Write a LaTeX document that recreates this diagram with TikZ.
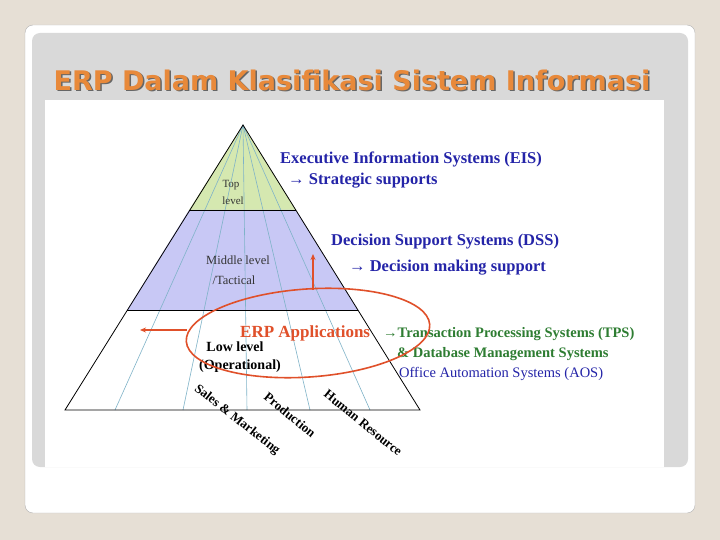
\documentclass[tikz,border=0pt]{standalone}
\usepackage{fontspec}
\setmainfont{Liberation Serif}
\newfontfamily\titlefont{DejaVu Sans}
\usetikzlibrary{arrows.meta}
\definecolor{bgc}{HTML}{E6DFD5}
\definecolor{panel}{HTML}{D9D9D9}
\definecolor{ttl}{HTML}{E8893A}
\definecolor{topg}{HTML}{D5E8B0}
\definecolor{midb}{HTML}{C8C8F5}
\definecolor{fan}{HTML}{7FB3C8}
\definecolor{navy}{HTML}{2424A8}
\definecolor{grn}{HTML}{2E7D32}
\definecolor{erp}{HTML}{E0502A}
\tikzset{
  lbl/.style={inner sep=0pt,anchor=west,font=\bfseries\fontsize{16.5}{18}\selectfont},
  rot/.style={inner sep=0pt,font=\bfseries\fontsize{13}{15}\selectfont},
  fanline/.style={draw=fan,line width=0.6pt},
  redarrow/.style={draw=erp,line width=1.5pt,-{Stealth[length=6pt,width=5pt]}}
}
\begin{document}
\begin{tikzpicture}[x=1pt,y=-1pt]
\useasboundingbox (0,0) rectangle (720,540);
\fill[bgc] (0,0) rectangle (720,540);
\fill[white,draw=gray!60,rounded corners=8pt] (25,25) rectangle (695,513);
\fill[panel,rounded corners=8pt] (32,33) rectangle (688,467);
\fill[white] (45,100) rectangle (664,467);
\node[inner sep=0pt,text=black!60] at (353.5,81.5) {\titlefont\bfseries\fontsize{27}{30}\selectfont ERP Dalam Klasifikasi Sistem Informasi};
\node[inner sep=0pt,text=ttl] (title) at (352,80) {\titlefont\bfseries\fontsize{27}{30}\selectfont ERP Dalam Klasifikasi Sistem Informasi};
% pyramid bands
\coordinate (apex) at (243,125);
\fill[topg] (apex) -- (296,210) -- (189,210) -- cycle;
\fill[midb] (189,210) -- (296,210) -- (358,310) -- (127,310) -- cycle;
% fan lines
\foreach \bx in {115,183,247,310,370} \draw[fanline] (apex) -- (\bx,410);
\draw[black,line width=0.7pt] (189,210) -- (296,210);
\draw[black,line width=0.7pt] (127,310) -- (358,310);
\draw[black,line width=0.8pt] (65,410) -- (apex) -- (420,410) -- cycle;
% level labels
\node[inner sep=0pt,font=\fontsize{11}{12}\selectfont,text=black!80] (top) at (231,185) {Top};
\node[inner sep=0pt,font=\fontsize{11}{12}\selectfont,text=black!80] (topl) at (233,201) {level};
\node[inner sep=0pt,font=\fontsize{12.5}{14}\selectfont,text=black!80] (mid) at (238,260) {Middle level};
\node[inner sep=0pt,font=\fontsize{12.5}{14}\selectfont,text=black!80] (tac) at (234,280) {/Tactical};
\node[inner sep=0pt,font=\bfseries\fontsize{14}{16}\selectfont] (low) at (235,347) {Low level};
\node[inner sep=0pt,font=\bfseries\fontsize{14}{16}\selectfont] (oper) at (240,366) {(Operational)};
% bottom rotated labels
\node[rot,rotate=-38] (sm) at (237,420) {Sales \& Marketing};
\node[rot,rotate=-39] (pr) at (290,415) {Production};
\node[rot,rotate=-39] (hr) at (363,423) {Human Resource};
% right texts
\node[lbl,text=navy] (eis) at (280,159) {Executive Information Systems (EIS)};
\node[lbl,text=navy] (eis2) at (288,181) {→ Strategic supports};
\node[lbl,text=navy] (dss) at (331,242) {Decision Support Systems (DSS)};
\node[lbl,text=navy] (dss2) at (349,268) {→ Decision making support};
\node[lbl,text=erp,font=\bfseries\fontsize{17}{19}\selectfont] (erpn) at (240,333) {ERP Applications};
\node[lbl,text=grn,font=\bfseries\fontsize{14.5}{16}\selectfont] (tps) at (383,334) {→Transaction Processing Systems (TPS)};
\node[lbl,text=grn,font=\bfseries\fontsize{14.5}{16}\selectfont] (dbms) at (397,354) {\& Database Management Systems};
\node[lbl,text=navy,font=\fontsize{14.5}{16}\selectfont] (aos) at (399,374) {Office Automation Systems (AOS)};
% ellipse and arrows
\draw[erp,line width=1.6pt,rotate around={4:(308,333)}] (308,333) ellipse [x radius=122, y radius=44];
\coordinate (el) at (187,330);
\coordinate (al) at (140,330);
\coordinate (eu) at (313,290);
\coordinate (au) at (313,254);
\draw[redarrow] (el) -- (al);
\draw[redarrow] (eu) -- (au);
\end{tikzpicture}
\end{document}
